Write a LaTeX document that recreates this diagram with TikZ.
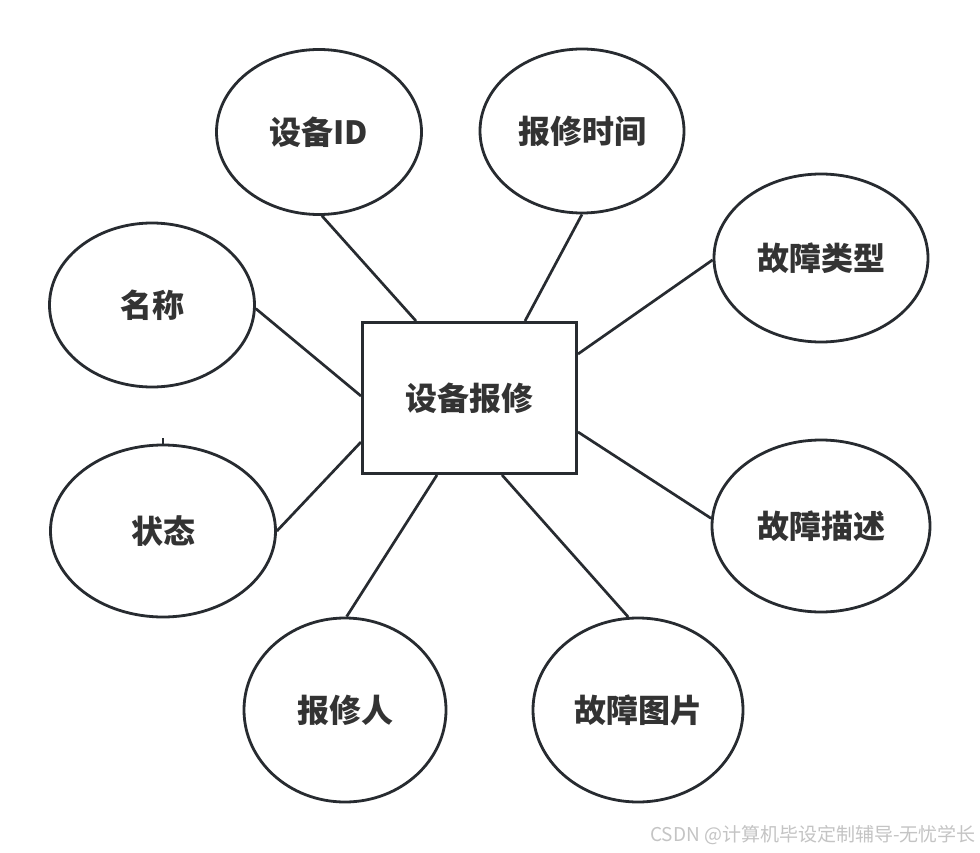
\documentclass[tikz,border=0pt]{standalone}
\usepackage{fontspec}
\newfontfamily\cjk{Noto Sans CJK SC}
\usetikzlibrary{shapes.geometric}
\definecolor{ln}{HTML}{272B30}
\definecolor{tx}{HTML}{333333}
\definecolor{wm}{HTML}{C4C4C4}
\tikzset{
  attr/.style={ellipse, draw=ln, line width=2.8pt, inner sep=0pt, font=\cjk\bfseries\fontsize{32}{32}\selectfont, text=tx},
  ent/.style={rectangle, draw=ln, line width=3pt, inner sep=0pt, minimum width=214pt, minimum height=151pt, font=\cjk\bfseries\fontsize{32}{32}\selectfont, text=tx},
  conn/.style={draw=ln, line width=2.7pt}
}
\begin{document}
\begin{tikzpicture}[x=1pt,y=-1pt]
\useasboundingbox[fill=white] (0,0) rectangle (980,853);
\node[ent] (c) at (469.5,398) {设备报修};
\node[attr, minimum width=205pt, minimum height=165pt] (a1) at (319,132) {设备ID};
\node[attr, minimum width=204pt, minimum height=164pt] (a2) at (582,131) {报修时间};
\node[attr, minimum width=214pt, minimum height=168pt] (a3) at (821,258) {故障类型};
\node[attr, minimum width=205pt, minimum height=164pt] (a4) at (152,305) {名称};
\node[attr, minimum width=225pt, minimum height=172pt] (a5) at (163,531) {状态};
\node[attr, minimum width=218pt, minimum height=172pt] (a6) at (821,526) {故障描述};
\node[attr, minimum width=202pt, minimum height=184pt] (a7) at (345,710) {报修人};
\node[attr, minimum width=210pt, minimum height=184pt] (a8) at (638,710) {故障图片};
\draw[conn] (a1.-88) -- ([xshift=55pt]c.north west);
\draw[conn] (a2.-90) -- ([xshift=164pt]c.north west);
\draw[conn] (a3.181) -- ([yshift=-33pt]c.north east);
\draw[conn] (a4.-2) -- ([yshift=-75pt]c.north west);
\draw[conn] (a5.0) -- ([yshift=-121pt]c.north west);
\draw[conn] (a6.176) -- ([yshift=-111pt]c.north east);
\draw[conn] (a7.89) -- ([xshift=76pt]c.south west);
\draw[conn] (a8.96) -- ([xshift=141pt]c.south west);
\coordinate (tk) at (163,438);
\draw[ln, line width=1.6pt] (a5.north) -- (tk);
\node[anchor=east, inner sep=0pt, text=wm, font=\cjk\fontsize{19}{19}\selectfont] (wmk) at (976,835) {CSDN @计算机毕设定制辅导-无忧学长};
\end{tikzpicture}
\end{document}
